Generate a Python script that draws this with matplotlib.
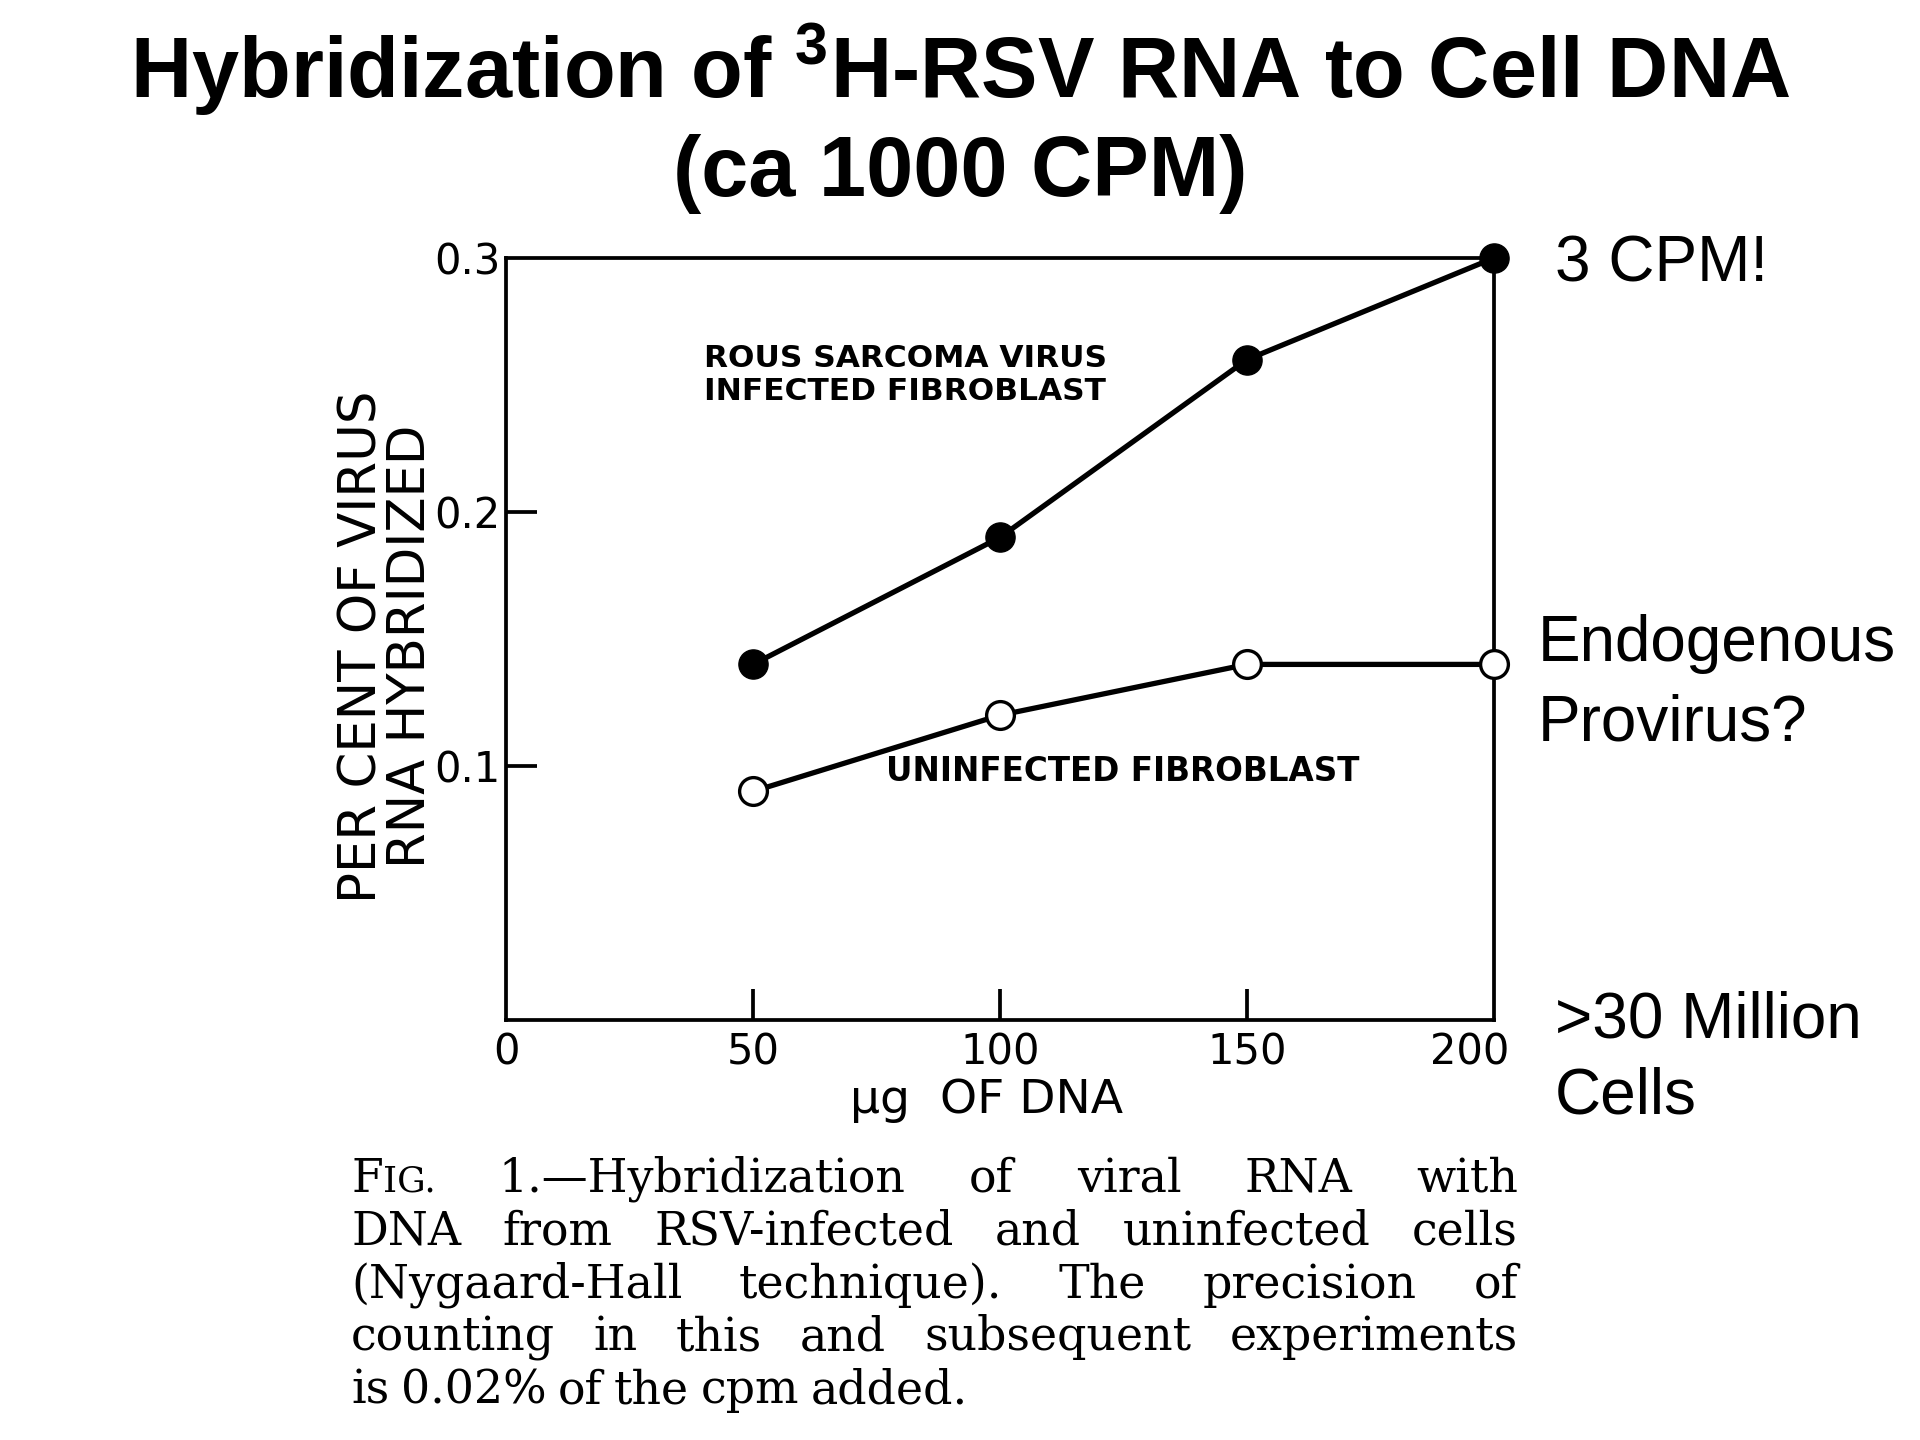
import matplotlib
matplotlib.use("Agg")
import matplotlib.pyplot as plt
from matplotlib.transforms import ScaledTranslation

plt.rcParams["mathtext.fontset"] = "custom"
plt.rcParams["mathtext.rm"] = "Liberation Sans"
plt.rcParams["mathtext.bf"] = "Liberation Sans:bold"

# ---------------- data ----------------
dna_ug = [50, 100, 150, 200]
infected = [0.14, 0.19, 0.26, 0.30]
uninfected = [0.09, 0.12, 0.14, 0.14]
x_ticks = [0, 50, 100, 150, 200]
x_ticklabels = ["0", "50", "100", "150", "200"]
y_ticks = [0.1, 0.2, 0.3]
y_ticklabels = ["0.1", "0.2", "0.3"]

title_line1 = r"Hybridization of $^{\mathbf{3}}$H-RSV RNA to Cell DNA"
title_line2 = "(ca 1000 CPM)"
# each word is a list of (text, relative size) pieces (small caps for "FIG.")
caption_lines = [
    [[("F", 1.0), ("IG.", 0.78)], [("1.\u2014Hybridization", 1.0)], [("of", 1.0)],
     [("viral", 1.0)], [("RNA", 1.0)], [("with", 1.0)]],
    [[(w, 1.0)] for w in ["DNA", "from", "RSV-infected", "and", "uninfected", "cells"]],
    [[(w, 1.0)] for w in ["(Nygaard-Hall", "technique).", "The", "precision", "of"]],
    [[(w, 1.0)] for w in ["counting", "in", "this", "and", "subsequent", "experiments"]],
    [[(w, 1.0)] for w in ["is", "0.02%", "of", "the", "cpm", "added."]],
]

W, H = 1920, 1440
fig = plt.figure(figsize=(19.2, 14.4), dpi=100)
fig.patch.set_facecolor("white")

def fx(px):
    return px / W

def fy(py):
    return 1 - py / H

# title
fig.text(0.5, fy(98), title_line1,
         ha="center", va="baseline", fontsize=61, fontweight="bold",
         family="Liberation Sans")
fig.text(0.5, fy(196), title_line2,
         ha="center", va="baseline", fontsize=61, fontweight="bold",
         family="Liberation Sans")

# axes
left, right, top, bottom = 506, 1494, 258, 1020
ax = fig.add_axes([fx(left), fy(bottom), (right - left) / W, (bottom - top) / H])
ax.set_xlim(0, 200)
ax.set_ylim(0, 0.3)
for sp in ax.spines.values():
    sp.set_linewidth(2.7)
    sp.set_color("black")

ax.plot(dna_ug, infected, color="black", lw=3.8, marker="o", ms=21,
        mfc="black", mec="black", clip_on=False, zorder=3)
ax.plot(dna_ug, uninfected, color="black", lw=3.8, marker="o", ms=20,
        mfc="white", mec="black", mew=2.4, clip_on=False, zorder=3)

tick_font = dict(family="DejaVu Sans", size=30)
ax.set_xticks(x_ticks)
ax.set_xticklabels(x_ticklabels, fontdict=tick_font)
ax.set_yticks(y_ticks)
ax.set_yticklabels(y_ticklabels, fontdict=tick_font)
ax.tick_params(axis="both", direction="in", length=22, width=2.7, pad=8)
ax.tick_params(axis="y", pad=4)
xt = ax.xaxis.get_major_ticks()
xt[0].tick1line.set_visible(False)
xt[-1].tick1line.set_visible(False)
yt = ax.yaxis.get_major_ticks()
yt[-1].tick1line.set_visible(False)
last_lbl = xt[-1].label1
last_lbl.set_transform(last_lbl.get_transform() +
                       ScaledTranslation(-0.24, 0, fig.dpi_scale_trans))

ax.set_xlabel("\u03bcg  OF DNA", family="DejaVu Sans", fontsize=34)
ax.xaxis.set_label_coords(0.486, -0.076)
ax.set_ylabel("PER CENT OF VIRUS\nRNA HYBRIDIZED", family="DejaVu Sans",
              fontsize=37, linespacing=0.95)
ax.yaxis.set_label_coords(-0.071, 0.49)

ax.text(40, 0.254, "ROUS SARCOMA VIRUS\nINFECTED FIBROBLAST", ha="left",
        va="center", family="DejaVu Sans", fontsize=22.5, fontweight="bold",
        linespacing=1.15)
ax.text(77, 0.098, "UNINFECTED FIBROBLAST", ha="left", va="center",
        family="DejaVu Sans", fontsize=23.5, fontweight="bold")

# right side notes
note_size = 46
fig.text(fx(1555), fy(282), "3 CPM!", ha="left", va="baseline",
         fontsize=note_size, family="Liberation Sans")
fig.text(fx(1538), fy(661), "Endogenous", ha="left", va="baseline",
         fontsize=note_size, family="Liberation Sans")
fig.text(fx(1538), fy(741), "Provirus?", ha="left", va="baseline",
         fontsize=note_size, family="Liberation Sans")
fig.text(fx(1555), fy(1038), ">30 Million", ha="left", va="baseline",
         fontsize=note_size, family="Liberation Sans")
fig.text(fx(1555), fy(1114), "Cells", ha="left", va="baseline",
         fontsize=note_size, family="Liberation Sans")

# caption, justified
cap_left, cap_right = 351, 1518
cap_base0, cap_step = 1192, 52.8
cap_size = 33
renderer = fig.canvas.get_renderer()
for i, words in enumerate(caption_lines):
    base = fy(cap_base0 + i * cap_step)
    word_objs = []
    word_widths = []
    for pieces in words:
        objs, ws = [], []
        for txt, rel in pieces:
            t = fig.text(0, base, txt, ha="left", va="baseline",
                         fontsize=cap_size * rel, family="DejaVu Serif")
            objs.append(t)
            ws.append(t.get_window_extent(renderer).width)
        word_objs.append((objs, ws))
        word_widths.append(sum(ws))
    last = i == len(caption_lines) - 1
    if last:
        gap = cap_size * 0.25 * 100 / 72
    else:
        gap = (cap_right - cap_left - sum(word_widths)) / (len(words) - 1)
    x = cap_left
    for (objs, ws), wdt in zip(word_objs, word_widths):
        xx = x
        for t, w1 in zip(objs, ws):
            t.set_x(fx(xx))
            xx += w1
        x += wdt + gap

fig.savefig("out.png", dpi=100, facecolor="white")
